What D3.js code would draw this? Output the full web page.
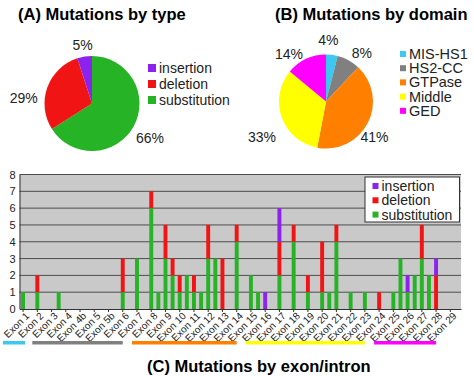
<!DOCTYPE html>
<html>
<head>
<meta charset="utf-8">
<script src="https://cdn.jsdelivr.net/npm/d3@7"></script>
<style>
  body { margin: 0; background: #fff; }
  svg { display: block; font-family: "Liberation Sans", Arial, Helvetica, sans-serif; }
</style>
</head>
<body>
<svg id="chart" width="474" height="376"></svg>
<script>
// (A) mutation types
const types = ["insertion", "deletion", "substitution"];
const typeShare = [5, 29, 66];

// (B) domains
const domains = ["MIS-HS1", "HS2-CC", "GTPase", "Middle", "GED"];
const domainShare = [4, 8, 41, 33, 14];
// first / last exon of each domain under the bar chart
const domainSpan = [["Exon 1", "Exon 1"], ["Exon 2", "Exon 6"], ["Exon 7", "Exon 14"], ["Exon 15", "Exon 23"], ["Exon 24", "Exon 28"]];

// (C) exon / intron positions
const exons = ["1", "2", "3", "4", "4b", "5", "5b"].concat(d3.range(6, 30).map(String));
const slots = exons.flatMap(e => ["Exon " + e, "Intron " + e]);
const substitution = [1,0,1,0,0,1,0,0,0,0, 0,0,0,0,1,0,3,0,6,1, 3,2,1,2,1,1,3,3,0,0,
                      4,0,2,1,0,0,2,0,4,0, 1,0,1,1,4,0,1,0,1,0, 0,0,1,3,1,2,3,2,0,0, 0,0];
const deletion     = [0,0,1,0,0,0,0,0,0,0, 0,0,0,0,2,0,0,0,1,0, 2,1,1,0,1,0,2,0,3,0,
                      1,0,0,0,0,0,2,0,1,0, 1,0,3,0,1,0,0,0,0,0, 1,0,0,0,0,0,2,0,2,0, 0,0];
const insertion    = [0,0,0,0,0,0,0,0,0,0, 0,0,0,0,0,0,0,0,0,0, 0,0,0,0,0,0,0,0,0,0,
                      0,0,0,0,1,0,2,0,0,0, 0,0,0,0,0,0,0,0,0,0, 0,0,0,0,1,0,0,0,1,0, 0,0];
const yTicks = [0, 1, 2, 3, 4, 5, 6, 7, 8];

const typeColor = d3.scaleOrdinal(types, ["#8b22ee", "#f01414", "#26b326"]);
const domainColor = d3.scaleOrdinal(domains, ["#3cc8f0", "#808080", "#ff8000", "#ffff00", "#ff00ff"]);

const svg = d3.select("#chart");

function pieChart(cx, cy, r, names, values, color, labelShift) {
    const g = svg.append("g").attr("transform", `translate(${cx},${cy})`);
    const arcs = d3.pie().sort(null)(values);
    g.selectAll("path")
        .data(arcs)
        .enter()
        .append("path")
            .attr("d", d3.arc().innerRadius(0).outerRadius(r))
            .attr("fill", (d, i) => color(names[i]));
    g.selectAll("text")
        .data(arcs)
        .enter()
        .append("text")
            .attr("x", (d, i) => Math.sin((d.startAngle + d.endAngle) / 2 + labelShift[i][0] * Math.PI / 180) * (r + labelShift[i][1]))
            .attr("y", (d, i) => -Math.cos((d.startAngle + d.endAngle) / 2 + labelShift[i][0] * Math.PI / 180) * (r + labelShift[i][1]))
            .attr("text-anchor", "middle")
            .attr("dominant-baseline", "central")
            .style("font-size", "14px")
            .attr("fill", "#222")
            .text(d => d.value + "%");
}

function legend(x, y, step, box, fontSize, names, color) {
    const lg = svg.append("g").attr("transform", `translate(${x},${y})`);
    names.forEach((n, i) => {
        lg.append("rect")
            .attr("x", 0)
            .attr("y", i * step - box / 2)
            .attr("width", box)
            .attr("height", box)
            .attr("fill", color(n));
        lg.append("text")
            .attr("x", box + 3)
            .attr("y", i * step)
            .attr("dominant-baseline", "central")
            .style("font-size", fontSize + "px")
            .attr("fill", "#222")
            .text(n);
    });
}

// titles
svg.append("text").attr("x", 18).attr("y", 20).style("font-size", "16.5px").style("font-weight", "bold").text("(A) Mutations by type");
svg.append("text").attr("x", 275).attr("y", 20).style("font-size", "16.5px").style("font-weight", "bold").text("(B) Mutations by domain");
svg.append("text").attr("x", 147).attr("y", 372).style("font-size", "16.5px").style("font-weight", "bold").text("(C) Mutations by exon/intron");

// pie A: substitution, deletion, insertion clockwise from top
pieChart(92, 103.5, 47.5, types.slice().reverse(), typeShare.slice().reverse(), typeColor,
    [[2, 20], [-15, 21], [0, 12]]);
legend(148, 68, 16, 8, 14, types, typeColor);

// pie B
pieChart(326, 101.5, 47, domains, domainShare, domainColor,
    [[-5, 15], [8, 13], [9, 13], [-9, 26], [-13, 13]]);
legend(400, 54, 14.2, 6, 14.5, domains, domainColor);

// (C) stacked bars
const plotLeft = 19.5, plotRight = 461, plotTop = 174.5, plotBottom = 309;

const x = d3.scaleBand()
    .domain(slots)
    .range([plotLeft, plotRight])
    .paddingInner(0.45)
    .paddingOuter(0.225);

const y = d3.scaleLinear()
    .domain([0, 8])
    .range([plotBottom, plotTop]);

svg.append("rect")
    .attr("x", plotLeft).attr("y", plotTop)
    .attr("width", plotRight - plotLeft).attr("height", plotBottom - plotTop)
    .attr("fill", "#c9c9c9");

svg.append("g")
    .selectAll("line")
    .data(yTicks.slice(1))
    .enter()
    .append("line")
        .attr("x1", plotLeft).attr("x2", plotRight)
        .attr("y1", d => y(d)).attr("y2", d => y(d))
        .attr("stroke", "#4d4d4d")
        .attr("stroke-width", 1);

const rows = slots.map((s, i) => ({slot: s, substitution: substitution[i], deletion: deletion[i], insertion: insertion[i]}));
const series = d3.stack().keys(["substitution", "deletion", "insertion"])(rows);

svg.append("g")
    .selectAll("g")
    .data(series)
    .enter()
    .append("g")
        .attr("fill", d => typeColor(d.key))
    .selectAll("rect")
    .data(d => d.filter(v => v[1] > v[0]))
    .enter()
    .append("rect")
        .attr("x", d => x(d.data.slot))
        .attr("width", x.bandwidth())
        .attr("y", d => y(d[1]))
        .attr("height", d => y(d[0]) - y(d[1]));

svg.append("g")
    .attr("transform", `translate(${plotLeft},0)`)
    .call(d3.axisLeft(y).tickValues(yTicks).tickSize(0).tickPadding(4))
    .call(g => g.select(".domain").attr("stroke", "#333"))
    .call(g => g.selectAll("text").style("font-size", "11px").attr("fill", "#222").style("font-family", "inherit"));

svg.append("g")
    .attr("transform", `translate(0,${plotBottom})`)
    .call(d3.axisBottom(x).tickValues(slots.filter(s => s.startsWith("Exon"))).tickSize(3).tickSizeOuter(0))
    .call(g => g.select(".domain").attr("stroke", "#333"))
    .call(g => g.selectAll(".tick line").attr("stroke", "#333"))
    .call(g => g.selectAll("text")
        .style("font-size", "10px")
        .style("font-family", "inherit")
        .attr("fill", "#222")
        .attr("text-anchor", "end")
        .attr("dy", "0.35em")
        .attr("y", 0)
        .attr("transform", "translate(4.5,5) rotate(-45)"));

// domain bands under the exon labels
svg.append("g")
    .selectAll("rect")
    .data(domainSpan)
    .enter()
    .append("rect")
        .attr("x", (d, i) => i === 0 ? 3 : x(d[0]) + x.bandwidth() / 2 - 5)
        .attr("width", (d, i) => x(d[1]) - x(d[0]) + (i === 0 ? x(d[0]) + x.bandwidth() / 2 - 3 + 2 : 5))
        .attr("y", 341)
        .attr("height", 3.5)
        .attr("fill", (d, i) => domainColor(domains[i]));

// legend box for (C)
svg.append("rect")
    .attr("x", 365).attr("y", 177)
    .attr("width", 94.5).attr("height", 45)
    .attr("fill", "#fff")
    .attr("stroke", "#333");
legend(372.5, 186, 14.3, 6, 14, types, typeColor);
</script>
</body>
</html>
